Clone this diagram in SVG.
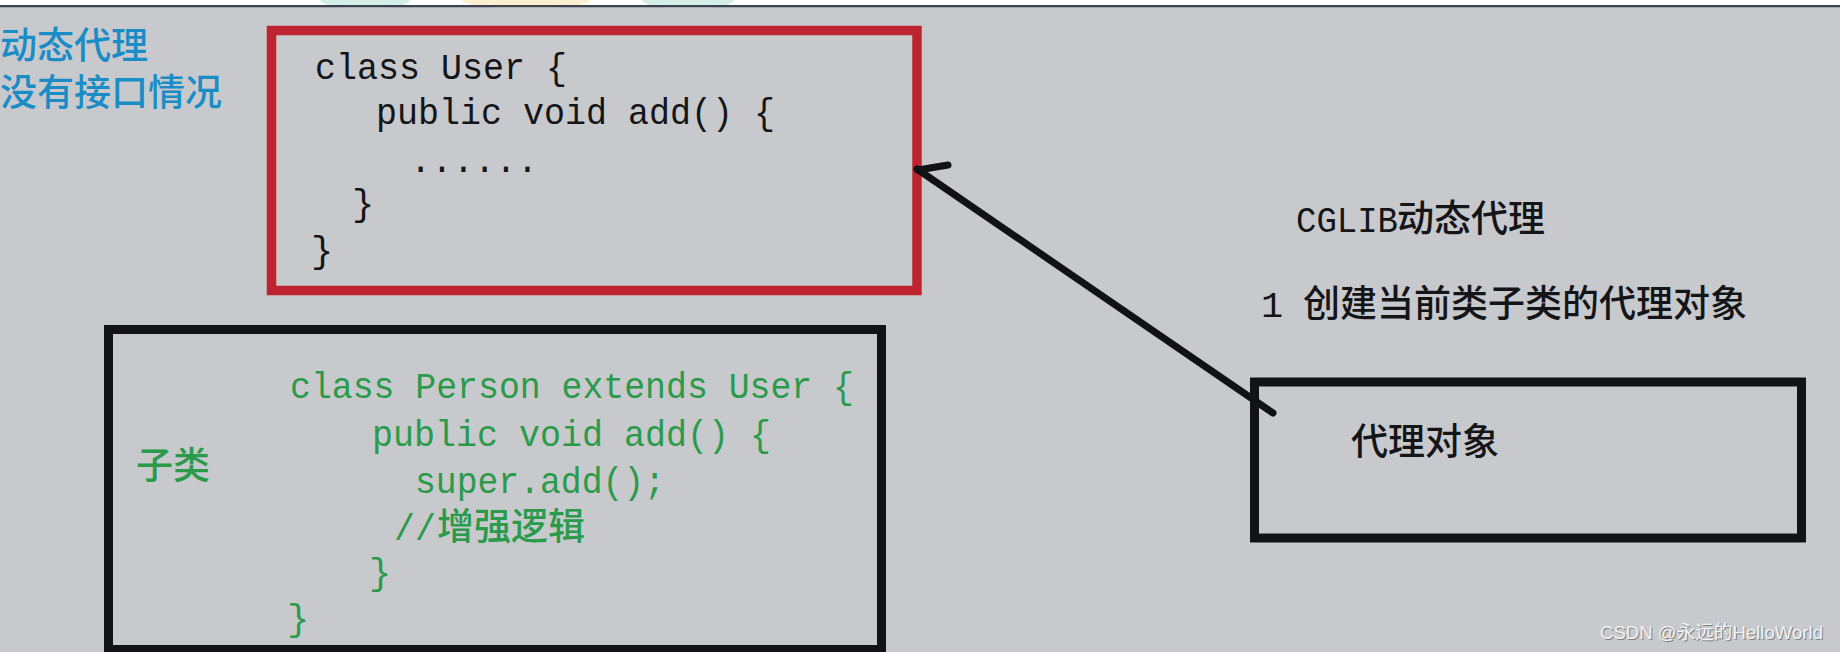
<svg xmlns="http://www.w3.org/2000/svg" width="1840" height="652" viewBox="0 0 1840 652">
  <style>
    .code { font-family: "Liberation Mono", "Noto Sans CJK SC", monospace; font-size: 37px; }
    .cjk { font-family: "Liberation Sans", "Noto Sans CJK SC", sans-serif; font-size: 37px; font-weight: 500; }
    .han { font-weight: 500; }
    .black { fill: #141518; }
    .green { fill: #2a9a4b; }
    .blue { fill: #1a8cc6; }
    .box { fill: none; stroke: #121317; stroke-width: 9; }
    .conn { fill: none; stroke: #111216; stroke-width: 7; stroke-linecap: round; stroke-linejoin: round; }
    .wm { font-family: "Liberation Sans", "Noto Sans CJK SC", sans-serif; font-size: 19px; }
  </style>

  <!-- page background and top strip -->
  <rect x="0" y="0" width="1840" height="652" fill="#c8c9cd"/>
  <rect x="0" y="0" width="1840" height="6" fill="#ffffff"/>
  <ellipse cx="365" cy="0" rx="45" ry="9" fill="#d4efe7"/>
  <ellipse cx="526" cy="0" rx="64" ry="9" fill="#fcefd0"/>
  <ellipse cx="688" cy="0" rx="46" ry="9" fill="#d4efe7"/>
  <rect x="0" y="5" width="1840" height="2.5" fill="#3b4250"/>
  <rect x="0" y="7.5" width="1840" height="644.5" fill="#c8c9cd"/>

  <!-- title label -->
  <g id="title">
    <text class="cjk blue" x="0" y="59">动态代理</text>
    <text class="cjk blue" x="0" y="106">没有接口情况</text>
  </g>

  <!-- User class box -->
  <g id="node-user">
    <rect x="271.5" y="30.5" width="645.5" height="260" fill="none" stroke="#bd2430" stroke-width="9.5"/>
    <text class="code black" x="315" y="79" textLength="252" lengthAdjust="spacingAndGlyphs">class User {</text>
    <text class="code black" x="376" y="124" textLength="399" lengthAdjust="spacingAndGlyphs">public void add() {</text>
    <text class="code black" x="410" y="172" textLength="128" lengthAdjust="spacingAndGlyphs">......</text>
    <text class="code black" x="352" y="215">}</text>
    <text class="code black" x="311" y="262">}</text>
  </g>

  <!-- Person subclass box -->
  <g id="node-person">
    <rect x="108.5" y="329.5" width="773" height="320" class="box"/>
    <text class="cjk green" x="136" y="479">子类</text>
    <text class="code green" x="290" y="398" textLength="564" lengthAdjust="spacingAndGlyphs">class Person extends User {</text>
    <text class="code green" x="372" y="446" textLength="399" lengthAdjust="spacingAndGlyphs">public void add() {</text>
    <text class="code green" x="415" y="493" textLength="250" lengthAdjust="spacingAndGlyphs">super.add();</text>
    <text class="code green" x="394" y="540"><tspan textLength="42" lengthAdjust="spacingAndGlyphs">//</tspan><tspan class="han" x="437">增强逻辑</tspan></text>
    <text class="code green" x="369" y="584">}</text>
    <text class="code green" x="287" y="630">}</text>
  </g>

  <!-- CGLIB description -->
  <g id="label-cglib">
    <text class="code black" x="1296" y="232"><tspan textLength="102" lengthAdjust="spacingAndGlyphs">CGLIB</tspan><tspan class="han" x="1397">动态代理</tspan></text>
    <text class="code black" x="1261" y="317"><tspan>1</tspan><tspan class="han" x="1303">创建当前类子类的代理对象</tspan></text>
  </g>

  <!-- proxy object box -->
  <g id="node-proxy">
    <rect x="1254.5" y="382" width="547" height="156" class="box"/>
    <text class="cjk black" x="1351" y="455">代理对象</text>
  </g>

  <!-- connector: proxy -> User -->
  <g id="connectors">
    <path class="conn" d="M 1273 413 L 917 169"/>
    <path class="conn" d="M 918 170 L 948 165"/>
  </g>

  <!-- watermark -->
  <g id="watermark">
    <text class="wm" x="1601" y="640" fill="#7d7e82" textLength="223" lengthAdjust="spacingAndGlyphs">CSDN @永远的HelloWorld</text>
    <text class="wm" x="1600" y="639" fill="#f2f2f2" textLength="223" lengthAdjust="spacingAndGlyphs">CSDN @永远的HelloWorld</text>
  </g>
</svg>
